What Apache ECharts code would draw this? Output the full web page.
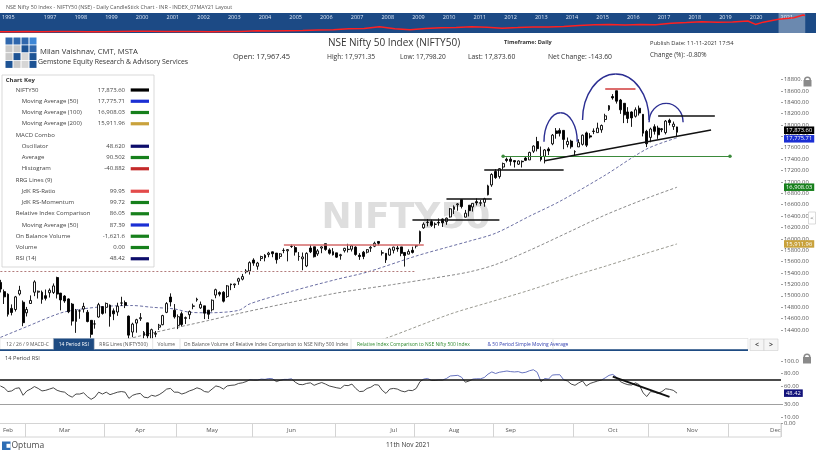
<!DOCTYPE html>
<html><head><meta charset="utf-8">
<script src="https://cdn.jsdelivr.net/npm/echarts@6/dist/echarts.min.js"></script>
<style>html,body{margin:0;padding:0;background:#fff}#c{width:816px;height:451px}</style>
</head><body><div id="c"></div>
<script>
// ---------------- DATA ----------------
const dates = [
'02-18','02-19','02-22','02-23','02-24','02-25','02-26',
'03-01','03-02','03-03','03-04','03-05','03-08','03-09','03-10','03-12','03-15','03-16','03-17','03-18','03-19','03-22','03-23','03-24','03-25','03-26','03-30','03-31',
'04-01','04-05','04-06','04-07','04-08','04-09','04-12','04-13','04-15','04-16','04-19','04-20','04-22','04-23','04-26','04-27','04-28','04-29','04-30',
'05-03','05-04','05-05','05-06','05-07','05-10','05-11','05-12','05-14','05-17','05-18','05-19','05-20','05-21','05-24','05-25','05-26','05-27','05-28','05-31',
'06-01','06-02','06-03','06-04','06-07','06-08','06-09','06-10','06-11','06-14','06-15','06-16','06-17','06-18','06-21','06-22','06-23','06-24','06-25','06-28','06-29','06-30',
'07-01','07-02','07-05','07-06','07-07','07-08','07-09','07-12','07-13','07-14','07-15','07-16','07-19','07-20','07-22','07-23','07-26','07-27','07-28','07-29','07-30',
'08-02','08-03','08-04','08-05','08-06','08-09','08-10','08-11','08-12','08-13','08-16','08-17','08-18','08-20','08-23','08-24','08-25','08-26','08-27','08-30','08-31',
'09-01','09-02','09-03','09-06','09-07','09-08','09-09','09-13','09-14','09-15','09-16','09-17','09-20','09-21','09-22','09-23','09-24','09-27','09-28','09-29','09-30',
'10-01','10-04','10-05','10-06','10-07','10-08','10-11','10-12','10-13','10-14','10-18','10-19','10-20','10-21','10-22','10-25','10-26','10-27','10-28','10-29',
'11-01','11-02','11-03','11-04','11-08','11-09','11-10','11-11'];
const futureDates = ['11-12','11-15','11-16','11-17','11-18','11-19','11-22','11-23','11-24','11-25','11-26','11-29','11-30',
'12-01','12-02','12-03','12-06','12-07','12-08','12-09','12-10','12-13','12-14','12-15','12-16','12-17','12-20'];

const opens = [15236,15074,15029,14780,14760,15033,14888,
14702,14866,15064,15065,15064,15003,15055,15060,15321,15048,14996,14946,14855,14550,14736,14768,14712,14570,14506,14628,14811,
14798,14837,14737,14716,14875,14882,14644,14364,14522,14599,14306,14526,14219,14326,14449,14493,14710,14979,14747,
14481,14687,14604,14669,14816,14928,14789,14824,14749,14756,15014,15058,15064,14987,15207,15193,15257,15293,15422,15437,
15629,15520,15655,15712,15725,15773,15751,15692,15796,15791,15866,15847,15692,15651,15525,15840,15862,15737,15839,15916,15807,15776,
15755,15706,15793,15813,15819,15856,15712,15767,15766,15838,15872,15955,15755,15746,15716,15800,15842,15860,15762,15732,15800,
15874,15951,16195,16288,16304,16257,16290,16349,16303,16385,16518,16600,16691,16382,16592,16562,16654,16627,16642,16775,16948,
17185,17095,17262,17399,17401,17375,17312,17363,17420,17387,17540,17710,17443,17450,17580,17670,17897,17906,17906,17657,17718,
17531,17616,17661,17862,17810,17886,17867,17916,18097,18272,18500,18602,18439,18382,18230,18229,18154,18295,18188,17890,
17783,17970,17947,17935,17867,18084,17973,17967];
const highs = [15281,15111,15045,14850,14999,15176,14919,
14806,15008,15273,15093,15093,15111,15131,15218,15336,15051,15012,14956,14875,14770,14763,14878,14752,14575,14572,14877,14813,
14883,14849,14779,14879,14984,14918,14653,14528,14597,14697,14383,14529,14424,14384,14508,14667,14890,15044,14856,
14673,14723,14637,14743,14863,14967,14900,14824,14749,14938,15126,15079,15082,15190,15215,15213,15319,15385,15469,15606,
15660,15597,15705,15733,15773,15778,15751,15752,15835,15823,15901,15880,15769,15761,15765,15896,15862,15821,15870,15916,15835,15839,
15755,15738,15845,15914,15893,15870,15750,15789,15820,15873,15952,15962,15800,15749,15844,15863,15880,15860,15767,15817,15862,
15893,16146,16290,16350,16336,16290,16360,16359,16376,16544,16589,16628,16701,16509,16593,16630,16712,16683,16722,16951,17153,
17225,17245,17340,17429,17436,17383,17380,17378,17438,17532,17644,17792,17622,17578,17610,17843,17947,17944,17913,17781,17742,
17557,17750,17833,17884,17857,17941,18041,18009,18198,18350,18543,18604,18458,18384,18314,18241,18310,18342,18190,17916,
17954,18013,17988,17947,18087,18112,18061,17971];
const lows = [15060,14857,14636,14657,14725,15006,14467,
14638,14865,14995,14953,14862,14919,14970,15034,14954,14745,14877,14696,14478,14350,14597,14707,14535,14264,14424,14617,14670,
14692,14459,14573,14649,14822,14785,14151,14274,14353,14559,14191,14229,14151,14274,14400,14484,14696,14814,14601,
14416,14461,14506,14591,14765,14898,14771,14592,14591,14725,14958,14992,14884,14964,15100,15138,15194,15272,15392,15374,
15528,15459,15611,15606,15678,15678,15566,15649,15749,15606,15842,15707,15616,15450,15505,15751,15673,15702,15749,15792,15724,15708,
15667,15635,15761,15762,15779,15705,15632,15644,15744,15772,15855,15888,15708,15578,15705,15745,15774,15696,15514,15731,15744,
15834,15915,16177,16220,16211,16187,16232,16210,16248,16375,16438,16495,16535,16376,16395,16480,16589,16580,16565,16765,16915,
17055,17059,17220,17345,17287,17254,17298,17254,17367,17386,17510,17537,17361,17326,17472,17646,17760,17799,17576,17608,17585,
17452,17615,17640,17613,17763,17840,17865,17864,18050,18248,18445,18377,18196,18034,18034,17968,18131,18167,17800,17613,
17697,17832,17757,17875,17836,17994,17915,17798];
const closes = [15119,14982,14676,14708,14982,15097,14529,
14761,14919,15245,15081,14938,14956,15098,15174,15031,14929,14910,14721,14557,14744,14736,14814,14549,14324,14507,14845,14691,
14867,14638,14684,14819,14873,14835,14310,14504,14581,14617,14359,14296,14406,14341,14485,14653,14864,14894,14631,
14634,14497,14618,14724,14823,14942,14850,14696,14677,14923,15108,15030,14906,15175,15197,15208,15301,15338,15435,15583,
15575,15576,15690,15670,15751,15740,15635,15738,15799,15812,15869,15768,15691,15683,15746,15773,15687,15790,15860,15815,15748,15721,
15680,15722,15834,15818,15879,15727,15690,15692,15812,15853,15924,15923,15752,15632,15824,15856,15824,15746,15709,15778,15763,
15885,16130,16258,16295,16238,16258,16280,16282,16364,16529,16563,16615,16569,16451,16496,16625,16634,16636,16705,16931,17132,
17076,17234,17323,17377,17362,17353,17369,17355,17380,17519,17630,17585,17396,17562,17546,17823,17853,17855,17748,17712,17618,
17532,17691,17822,17646,17790,17895,17946,17992,18162,18339,18477,18419,18267,18179,18115,18125,18268,18211,17857,17672,
17930,17889,17829,17917,18069,18045,18017,17874];

// moving averages at selected days (index into dates)
const ma50Idx = [0,7,16,22,29,35,40,46,50,55,63,66,77,89,97,110,118,124,131,140,148,160,171,179];
const ma50Val = [14270,14460,14700,14773,14820,14830,14800,14770,14713,14703,14745,14860,15080,15290,15417,15700,15850,15960,16100,16400,16660,17120,17580,17776];
const ma100Idx = [30,40,55,63,75,89,104,114,124,131,140,151,160,171,179];
const ma100Val = [14180,14345,14567,14690,14860,15050,15200,15305,15420,15550,15800,16140,16420,16714,16908];
const ma200Idx = [98,102,119,130,140,152,160,171,179];
const ma200Val = [14180,14255,14680,14900,15100,15360,15520,15750,15912];

const rsi14 = [60,57,51,52,56,57,45,52,55,59,56,52,53,55,57,53,51,50,45,42,47,47,49,43,38.5,42,50,47,
50,46,48,50,51,50,40,45,47,48,42,41,45,43.5,46,50,55,56,50,
50,47,49,52,54,57,55,51,50,55,60,58.5,55,60,61,61.5,64,65,67,70,
69.5,69.5,71,70.5,72,71.5,67,69,70.5,70.5,71.5,66,62.5,62,64,65,61,63.5,65.5,63,60,58.5,
57,56,61,60.5,63,56,51,51.5,56,58,62,61.5,53,48,55,56,55,52,50.5,53,52.5,
56,67,71,72,69,69,69.5,69.5,72,76,76.5,77,74,66,68,71,71.5,71.5,73.5,79,82.5,
80,82,83,84,83,82.5,83,81,82,84.5,86,82,67,72,71,77.5,78,78,70,68,63,
61,65,68,60,64,66,68,69.5,73,77,78.5,74,67,64,62,61.5,65,62,49,43,
51,50,48,51,55.5,54.5,53,48.42];

// annotation lines: [startIdx, startValue, endIdx, endValue]
const annoLines = [
 [0,15430,110,15430],[75,15890,112,15890],[109,16336,132,16336],[118,16710,130,16710],
 [128,17220,149,17220],[133,17450,193,17450],[144,17371,188,17911],[174,18155,189,18155],[160,18633,168,18633]];
// arcs (rounding tops): start/end index, base and top value
const arcStart = [143.8,154.0,171.6], arcEnd = [152.6,171.6,180.6];
const arcBase = [17705,18087,18050], arcTop = [18216,18897,18381];
const rsiTrend = [162,75,177,42.5];
const rsiLevels = [70,30];
const rsiTicks = [0,10,30,60,80,100];

const lastValues = {nifty:17873.60, ma50:17775.71, ma100:16908.03, ma200:15911.96, rsi:48.42};
const header = {open:'17,967.45', high:'17,971.35', low:'17,798.20', last:'17,873.60', net:'-143.60', pct:'-0.80%'};

// overview (history strip) years and approx levels
const ovYears = [1995.64,1996,1996.5,1997,1997.5,1998,1998.5,1999,1999.5,2000,2000.5,2001,2001.5,2002,2002.5,2003,2003.5,2004,2004.5,2005,2005.5,2006,2006.5,2007,2007.5,2008,2008.5,2009,2009.5,2010,2010.5,2011,2011.5,2012,2012.5,2013,2013.5,2014,2014.5,2015,2015.5,2016,2016.5,2017,2017.5,2018,2018.5,2019,2019.5,2020,2020.25,2020.5,2021,2021.5,2021.8,2021.86];
const ovValues = [1000,950,1050,900,1150,1080,950,900,1200,1500,1450,1300,1100,1050,1000,1100,1150,1900,1600,2050,2200,2850,3100,3950,4300,6100,4000,2950,4400,5200,5300,6150,5600,4650,5250,5950,5850,6300,7600,8300,8400,7950,8600,8200,9800,10500,11300,10900,11100,12200,8600,11000,14000,15700,18400,17874];
const ovLabelYears = [1995.64,1997,1998,1999,2000,2001,2002,2003,2004,2005,2006,2007,2008,2009,2010,2011,2012,2013,2014,2015,2016,2017,2018,2019,2020,2021];
const ovTickYears = ovLabelYears.slice(1);
const ovWindow = [2021.0, 2021.87];

const monthLabelAt = {'02-22':'Feb','03-16':'Mar','04-16':'Apr','05-17':'May','06-15':'Jun','07-23':'Jul','08-16':'Aug','09-07':'Sep','10-18':'Oct','11-17':'Nov','12-17':'Dec'};

const keyRows = [
 ['NIFTY50','17,873.60','#000000',1],['Moving Average (50)','17,775.71','#1b2fd4',2],['Moving Average (100)','16,908.03','#17801c',2],
 ['Moving Average (200)','15,911.96','#c9a23c',2],['MACD Combo','',null,1],['Oscillator','48.620','#0d0d6b',2],['Average','90.502','#17801c',2],
 ['Histogram','-40.882','#c42a2a',2],['RRG Lines (9)','',null,1],['JdK RS-Ratio','99.95','#e34b4b',2],['JdK RS-Momentum','99.72','#17801c',2],
 ['Relative Index Comparison','86.05','#17801c',1],['Moving Average (50)','87.39','#1b2fd4',2],['On Balance Volume','-1,621.6','#17801c',1],
 ['Volume','0.00','#17801c',1],['RSI (14)','48.42','#0d0d6b',1]];

// ---------------- BUILD ----------------
const allDates = dates.concat(futureDates);
const candleData = opens.map((o,i)=>[o, closes[i], lows[i], highs[i]]);
const pairs = (idx, val) => idx.map((i,k)=>[i, val[k]]);
const monthStarts = new Set();
for (let i=1;i<allDates.length;i++) if (allDates[i].slice(0,2)!==allDates[i-1].slice(0,2)) monthStarts.add(i);

const FF = 'Open Sans';
const font = (s,w) => `${w||'normal'} ${s}px "${FF}"`;
const T = (x,y,text,size,color,opt={}) => ({type:'text', x, y, z: opt.z ?? 101, silent:true,
  style:{text, font: font(size, opt.weight), fontSize:size, fontFamily:opt.family||FF, fontWeight:opt.weight||'normal', fill:color,
    textAlign:opt.align||'left', align:opt.align||'left', textVerticalAlign:'middle', verticalAlign:'middle'}});
const R = (x,y,w,h,fill,stroke,lw,z) => ({type:'rect', z: z ?? 100, silent:true, shape:{x,y,width:w,height:h}, style:{fill, stroke: stroke||null, lineWidth: lw||0}});
const L = (x1,y1,x2,y2,stroke,lw) => ({type:'line', z:101, silent:true, shape:{x1,y1,x2,y2}, style:{stroke, lineWidth:lw}});

const g = [];
g.push(T(6,7,'NSE Nifty 50 Index - NIFTY50 (NSE) - Daily CandleStick Chart - INR - INDEX_07MAY21 Layout',5.4,'#555'));
const logo = [['#2f67ad','#2f67ad','#2f67ad','#3d86d6'],['#c9c9c9','#c9c9c9','#1d5394','#2f67ad'],['#c9c9c9','#1d5394','#d6d6d6','#1d5394'],['#1d5394','#c9c9c9','#d6d6d6','#1d5394']];
logo.forEach((row,r)=>row.forEach((c,k)=>g.push(R(5.5+k*8, 37.5+r*7.8, 7, 7, c))));
g.push(T(40,52,'Milan Vaishnav, CMT, MSTA',7.7,'#333'));
g.push(T(38,62,'Gemstone Equity Research & Advisory Services',6.9,'#333'));
g.push(T(394,43.5,'NSE Nifty 50 Index (NIFTY50)',10,'#333',{align:'center'}));
g.push(T(233,57.3,'Open: '+header.open,7.5,'#333'));
g.push(T(327,57,'High: '+header.high,6.7,'#333'));
g.push(T(400,57,'Low: '+header.low,6.6,'#333'));
g.push(T(468,57,'Last: '+header.last,6.8,'#333'));
g.push(T(548,56.7,'Net Change: '+header.net,6.8,'#333'));
g.push(T(504,42,'Timeframe: Daily',5.6,'#333',{weight:'bold'}));
g.push(T(650,43.8,'Publish Date: 11-11-2021 17:54',5.8,'#333'));
g.push(T(650,55.3,'Change (%): '+header.pct,6.4,'#333'));
// watermark
g.push({type:'text', x:406, y:219, z:0, silent:true, style:{text:'NIFTY50', font:'bold 36px "DejaVu Sans"', fill:'#dedede', textAlign:'center', align:'center', textVerticalAlign:'middle', verticalAlign:'middle'}});
// chart key
g.push(R(2,75,152,192,'#fff','#cfcfcf',0.8));
g.push(T(5.7,80.5,'Chart Key',6,'#333',{weight:'bold'}));
keyRows.forEach((r,k)=>{ const y = 90 + k*11.25;
  g.push(T(r[3]===1?15.7:21.7, y, r[0], 6, '#444'));
  if (r[1]) g.push(T(125, y, r[1], 6, '#444', {align:'right'}));
  if (r[2]) g.push(R(130.7, y-1.6, 18.3, 3.2, r[2]));
});
// tabs
g.push(R(0,338.5,748,11.5,'#fff','#d8d8d8',0.6));
g.push(R(53.3,338.5,41,11.5,'#1e4b82'));
[53.3,94.3,152.7,180,351,553].forEach(x=>g.push(L(x,339,x,349.5,'#d4d4d4',0.6)));
g.push(T(27.5,344.3,'12 / 26 / 9 MACD-C',4.9,'#555',{align:'center'}));
g.push(T(73.8,344.3,'14 Period RSI',4.9,'#fff',{align:'center'}));
g.push(T(123.5,344.3,'RRG Lines (NIFTY500)',4.9,'#555',{align:'center'}));
g.push(T(166.3,344.3,'Volume',4.9,'#555',{align:'center'}));
g.push(T(266,344.3,'On Balance Volume of Relative Index Comparison to NSE Nifty 500 Index',4.9,'#555',{align:'center'}));
g.push(T(357,344.3,'Relative Index Comparison to NSE Nifty 500 Index',4.9,'#2f8a2f'));
g.push(T(487.5,344.3,'& 50 Period Simple Moving Average',4.9,'#3340b0'));
g.push(R(0,349.3,748,1.6,'#1e4b82'));
g.push(R(750,339,14,11.5,'#f5f5f5','#cfcfcf',0.6)); g.push(R(764,339,14,11.5,'#f5f5f5','#cfcfcf',0.6));
g.push(T(757,344.5,'<',7,'#444',{align:'center',weight:'bold'})); g.push(T(771,344.5,'>',7,'#444',{align:'center',weight:'bold'}));
// locks & handle
[[802,75],[801.5,352]].forEach(([x,y])=>{
  g.push(R(x,y,11,12,'#fff',null,0,102));
  g.push({type:'arc', z:103, silent:true, shape:{cx:x+5.5, cy:y+5, r:2.8, startAngle:Math.PI, endAngle:2*Math.PI}, style:{stroke:'#8a8a8a', lineWidth:1.5, fill:null}});
  g.push(R(x+1.5,y+5,8,6.5,'#8a8a8a',null,0,103));
});
g.push(R(808.5,212,7,12,'#fff','#cccccc',0.7,102));
g.push(T(812,218,'<',6,'#555',{align:'center',z:103}));
g.push(T(5,358.3,'14 Period RSI',5.7,'#444'));
// footer
g.push(R(2,441.5,8.5,8.5,'#2e6db4',null,0,100)); g.push(R(6.5,443.8,4,4,'#fff',null,0,101));
g.push(T(11.5,446,'Optuma',8.5,'#4a4a4a'));
g.push(T(408,445.5,'11th Nov 2021',6.5,'#333',{align:'center'}));

// markLines on price
const lineStyles = [
 {color:'#b27b7b', width:1, type:[2,2]}, {color:'#d46a6a', width:1.6, type:'solid'},
 {color:'#111', width:1.5, type:'solid'}, {color:'#111', width:1.5, type:'solid'}, {color:'#111', width:1.5, type:'solid'},
 {color:'#3b8a3b', width:1.2, type:'solid'}, {color:'#111', width:1.5, type:'solid'}, {color:'#111', width:1.5, type:'solid'},
 {color:'#d44848', width:1.6, type:'solid'}];
const priceMarks = annoLines.map((a,k)=>{
  const s = {coord:[allDates[a[0]], a[1]], lineStyle: lineStyles[k]};
  const e = {coord:[allDates[a[2]], a[3]], lineStyle: lineStyles[k]};
  if (k===5) { s.symbol='circle'; s.symbolSize=3.5; e.symbol='circle'; e.symbolSize=3.5; }
  return [s,e];
});

// grid geometry
const G0 = {top:68.1, height:273.3}, G1 = {top:351.7, height:71.6}, RIGHT = 35;
const gridCommon = {left:-1.5, right:RIGHT, outerBoundsMode:'none', containLabel:false};
const catAxis = (gi, extra) => Object.assign({type:'category', gridIndex:gi, data:allDates, boundaryGap:true, show:false}, extra||{});
const axisLbl = {fontSize:5.8, color:'#555', fontFamily:FF, margin:3};

// value boxes on the right axis (custom series, drawn through the axes' scales)
const boxSeries = (xi, yi, vals, texts, colors, offs) => ({
  type:'custom', xAxisIndex:xi, yAxisIndex:yi, silent:true, clip:false, z:20,
  data: vals.map(v=>[allDates[allDates.length-1], v]), encode:{x:0, y:1},
  renderItem:(params, api)=>{
    const i = params.dataIndex;
    const p = api.coord([allDates.length-1, vals[i]]);
    const bw = api.size([1,0])[0];
    return {type:'text', x: p[0] + bw/2 + 3, y: p[1] + (offs[i]||0),
      style:{text:texts[i], fill:'#fff', backgroundColor:colors[i], padding:[1,2,0.5,2], font:'normal 5.8px "Open Sans"',
        align:'left', verticalAlign:'middle', textAlign:'left', textVerticalAlign:'middle'}};
  }});
const fmt = v => v.toLocaleString('en-US',{minimumFractionDigits:2, maximumFractionDigits:2});
const priceBoxVals = [lastValues.ma200, lastValues.ma100, lastValues.ma50, lastValues.nifty];

const rsiSplit = G1.top + G1.height * (1 - rsiLevels[0]/115);
const OV = {left:0, right:0, top:13, height:20, outerBoundsMode:'none'};

const option = {
  animation:false, backgroundColor:'#fff',
  grid:[
    Object.assign({}, G0, gridCommon),
    Object.assign({}, G1, gridCommon),
    Object.assign({top:423.5, height:13.5, show:true, borderColor:'#d4d4d4', borderWidth:1, backgroundColor:'#fff'}, gridCommon),
    Object.assign({show:true, backgroundColor:'#1c4a85', borderWidth:0}, OV),
    Object.assign({show:false}, OV)
  ],
  xAxis:[
    catAxis(0), catAxis(1),
    catAxis(2, {show:true, position:'top', axisLine:{show:false}, axisTick:{show:false},
      axisLabel:{show:true, inside:true, margin:3.5, fontSize:6, color:'#555', fontFamily:FF,
        interval:(i,v)=>!!monthLabelAt[v], formatter:v=>monthLabelAt[v]||''},
      splitLine:{show:true, interval:(i)=>monthStarts.has(i), lineStyle:{color:'#d4d4d4', width:1}}}),
    {type:'value', gridIndex:3, min:1995.64, max:2022.22, show:false},
    {type:'value', gridIndex:4, min:1995.64, max:2022.22, position:'top', axisLine:{show:false},
      axisTick:{show:true, inside:true, length:20, customValues:ovTickYears, lineStyle:{color:'rgba(255,255,255,0.28)', width:0.8}},
      axisLabel:{show:true, inside:true, margin:1.2, customValues:ovLabelYears, formatter:v=>String(Math.floor(v+1e-6)), color:'#dde6f4', fontSize:5.5, fontFamily:FF, align:'left', padding:[0,0,0,2]},
      splitLine:{show:false}}
  ],
  yAxis:[
    {type:'value', gridIndex:0, min:14200, max:19000, interval:200, position:'right', axisLine:{show:false},
      axisTick:{show:true, length:2, lineStyle:{color:'#888', width:0.8}}, splitLine:{show:false},
      axisLabel:Object.assign({formatter:v=>v.toFixed(2), showMinLabel:false, showMaxLabel:false}, axisLbl)},
    {type:'value', gridIndex:1, min:0, max:115, position:'right', axisLine:{show:false}, splitLine:{show:false},
      axisTick:{show:true, length:2, customValues:rsiTicks, lineStyle:{color:'#888', width:0.8}},
      axisLabel:Object.assign({customValues:rsiTicks, formatter:v=> (rsiTicks.indexOf(v)<0?'':(v===100?'100.0':v.toFixed(2)))}, axisLbl)},
    {type:'value', gridIndex:2, min:0, max:1, show:false},
    {type:'value', gridIndex:3, min:-400, max:20600, show:false},
    {type:'value', gridIndex:4, min:0, max:1, show:false}
  ],
  series:[
    {type:'candlestick', xAxisIndex:0, yAxisIndex:0, data:candleData, barWidth:2.4, silent:true, z:3,
      itemStyle:{color:'#fff', color0:'#000', borderColor:'#000', borderColor0:'#000', borderWidth:0.9},
      markLine:{silent:true, symbol:['none','none'], animation:false, label:{show:false}, data: priceMarks}},
    {type:'line', xAxisIndex:0, yAxisIndex:0, data:pairs(ma50Idx, ma50Val), showSymbol:false, smooth:0.3, silent:true, z:2,
      lineStyle:{color:'#5a5f98', width:0.9, type:[3,2]}},
    {type:'line', xAxisIndex:0, yAxisIndex:0, data:pairs(ma100Idx, ma100Val), showSymbol:false, smooth:0.3, silent:true, z:2,
      lineStyle:{color:'#7d7d7d', width:0.9, type:[3,2]}},
    {type:'line', xAxisIndex:0, yAxisIndex:0, data:pairs(ma200Idx, ma200Val), showSymbol:false, smooth:0.3, silent:true, z:2,
      lineStyle:{color:'#8f8f86', width:0.9, type:[3,2]}},
    {type:'custom', xAxisIndex:0, yAxisIndex:0, silent:true, z:4,
      data: arcTop.map((t,i)=>[allDates[Math.round((arcStart[i]+arcEnd[i])/2)], t]),
      encode:{x:0, y:1},
      renderItem:(params, api)=>{
        const i = params.dataIndex;
        const bw = api.size([1,0])[0];
        const fx = v => api.coord([Math.floor(v), arcBase[i]])[0] + (v-Math.floor(v))*bw;
        const x1 = fx(arcStart[i]), x2 = fx(arcEnd[i]);
        const y0 = api.coord([0, arcBase[i]])[1], yt = api.coord([0, arcTop[i]])[1];
        const rx = (x2-x1)/2, cx = x1+rx, ry = y0-yt, k = 0.5523;
        const st = {stroke:'#2b2e92', lineWidth:1.4, fill:null};
        return {type:'group', children:[
          {type:'bezierCurve', shape:{x1:x1,y1:y0,cpx1:x1,cpy1:y0-k*ry,cpx2:cx-k*rx,cpy2:yt,x2:cx,y2:yt}, style:st},
          {type:'bezierCurve', shape:{x1:cx,y1:yt,cpx1:cx+k*rx,cpy1:yt,cpx2:x2,cpy2:y0-k*ry,x2:x2,y2:y0}, style:st}
        ]};
      }},
    {type:'line', xAxisIndex:1, yAxisIndex:1, data:rsi14, showSymbol:false, silent:true, z:3,
      lineStyle:{width:0.9, color: new echarts.graphic.LinearGradient(0, G1.top, 0, G1.top+G1.height, [
        {offset:0, color:'#5563b8'}, {offset:(rsiSplit-G1.top)/G1.height, color:'#5563b8'},
        {offset:(rsiSplit-G1.top)/G1.height, color:'#333333'}, {offset:1, color:'#333333'}], true)},
      markLine:{silent:true, symbol:['none','none'], label:{show:false}, data:[
        {yAxis:rsiLevels[0], lineStyle:{color:'#111', width:1.5, type:'solid'}},
        {yAxis:rsiLevels[1], lineStyle:{color:'#a0a0a0', width:1, type:'solid'}},
        [{coord:[allDates[rsiTrend[0]], rsiTrend[1]], lineStyle:{color:'#111', width:2, type:'solid'}},{coord:[allDates[rsiTrend[2]], rsiTrend[3]], lineStyle:{color:'#111', width:2, type:'solid'}}]
      ]}},
    {type:'line', xAxisIndex:3, yAxisIndex:3, data:pairs(ovYears, ovValues), showSymbol:false, clip:false, z:6,
      lineStyle:{color:'#ff2020', width:1.5}},
    {type:'custom', xAxisIndex:3, yAxisIndex:3, silent:true, z:5, clip:false,
      data:[[ovWindow[0], 0]], encode:{x:0, y:1},
      renderItem:(params, api)=>{
        const a = api.coord([ovWindow[0], 20600]), b = api.coord([ovWindow[1], -400]);
        return {type:'rect', shape:{x:a[0], y:a[1], width:b[0]-a[0], height:b[1]-a[1]}, style:{fill:'rgba(255,255,255,0.35)'}};
      }},
    boxSeries(0, 0, priceBoxVals, priceBoxVals.map(fmt), ['#c9a23c','#17801c','#1b2fd4','#000000'], [0,0,1,-2]),
    boxSeries(1, 1, [lastValues.rsi], [lastValues.rsi.toFixed(2)], ['#12127a'], [0])
  ],
  graphic:{elements:g}
};
const chart = echarts.init(document.getElementById('c'), null, {renderer:'canvas'});
chart.setOption(option);
</script></body></html>
